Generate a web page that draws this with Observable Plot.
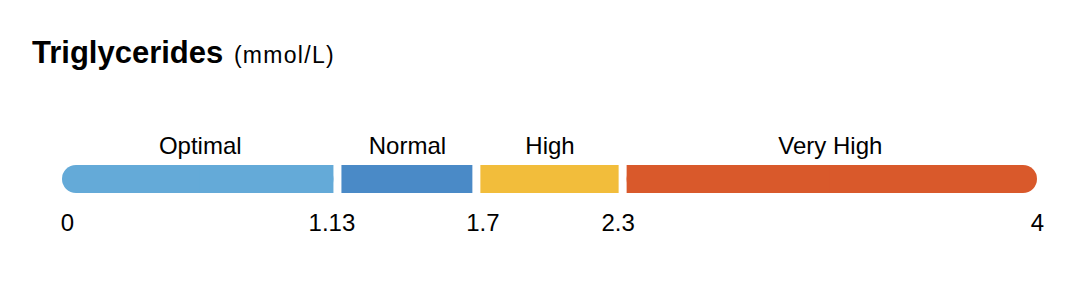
<!DOCTYPE html>
<html><head><meta charset="utf-8">
<script src="https://cdn.jsdelivr.net/npm/d3@7"></script>
<script src="https://cdn.jsdelivr.net/npm/@observablehq/plot@0.6"></script>
<style>
body{margin:0;background:#fff;font-family:"Liberation Sans",Arial,sans-serif;}
#wrap{position:relative;width:1080px;height:286px;}
#title{position:absolute;left:32px;top:37px;font-size:31px;line-height:31px;font-weight:bold;color:#000;white-space:nowrap}
#title span{font-weight:normal;font-size:23px;letter-spacing:1.3px;margin-left:2px;}
#chart{position:absolute;left:0;top:0}
</style></head><body>
<div id="wrap"><div id="chart"></div><div id="title">Triglycerides <span>(mmol/L)</span></div></div>
<script>
const categories = ["Optimal", "Normal", "High", "Very High"];
const starts = [0, 1.13, 1.7, 2.3];
const ends = [1.13, 1.7, 2.3, 4];
const colors = ["#64aad8", "#4a8ac7", "#f2bd3b", "#d9592b"];
const tickValues = [0, 1.13, 1.7, 2.3, 4];
const tickLabels = ["0", "1.13", "1.7", "2.3", "4"];

const segments = categories.map((c, i) => ({category: c, start: starts[i], end: ends[i]}));
const ticks = tickValues.map((v, i) => ({value: v, label: tickLabels[i]}));
const nudge = [5, -6, 6, -5, 0];
const last = segments.length - 1;
const gap = 4, r = 14;
const mid = d => (d.start + d.end) / 2;

const marks = [
  Plot.rect([segments[0]], {x1: "start", x2: "end", insetRight: gap, rx: r, fill: "category"}),
  Plot.rect([segments[0]], {x1: mid, x2: "end", insetRight: gap, fill: "category"}),
  Plot.rect(segments.slice(1, last), {x1: "start", x2: "end", insetLeft: gap, insetRight: gap, fill: "category"}),
  Plot.rect([segments[last]], {x1: "start", x2: "end", insetLeft: gap, rx: r, fill: "category"}),
  Plot.rect([segments[last]], {x1: "start", x2: mid, insetLeft: gap, fill: "category"}),
  Plot.text(segments, {x: mid, text: "category", frameAnchor: "middle", lineAnchor: "bottom", dy: -26, fontSize: 24, fill: "#000"}),
  ...ticks.map((t, i) => Plot.text([t], {x: "value", text: "label", frameAnchor: "middle", lineAnchor: "bottom", dy: 51, dx: nudge[i], fontSize: 24, fill: "#000"}))
];

const chart = Plot.plot({
  width: 1080,
  height: 286,
  marginLeft: 62,
  marginRight: 43,
  marginTop: 165,
  marginBottom: 93,
  x: {domain: [0, 4], axis: null},
  color: {domain: categories, range: colors},
  style: {fontFamily: "Liberation Sans, Arial, sans-serif", background: "#fff", overflow: "visible"},
  marks
});
document.getElementById("chart").appendChild(chart);
</script>
</body></html>
